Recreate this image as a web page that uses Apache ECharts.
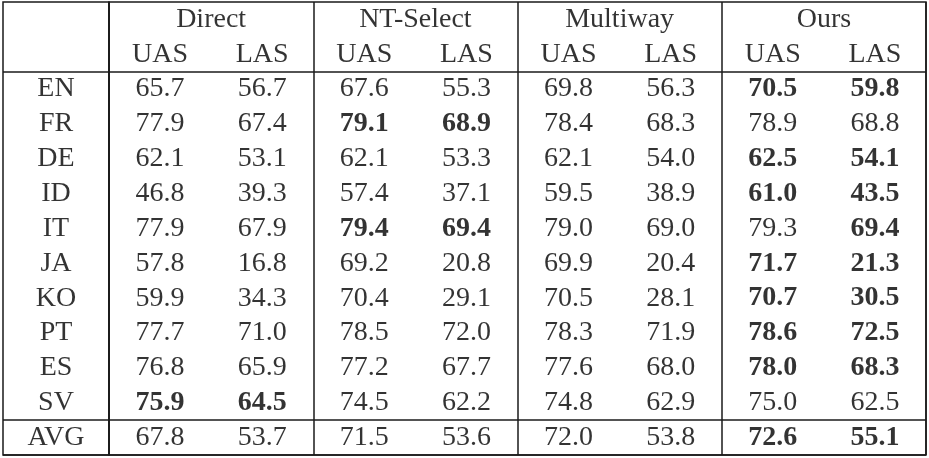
<!DOCTYPE html>
<html>
<head>
<meta charset="utf-8">
<script src="https://cdn.jsdelivr.net/npm/echarts@6/dist/echarts.min.js"></script>
<style>
html,body{margin:0;padding:0;background:#fff;}
#main{width:929px;height:458px;}
</style>
</head>
<body>
<div id="main"></div>
<script>
// 表格数据
var groups=['Direct','NT-Select','Multiway','Ours'];
var metrics=['UAS','LAS'];
var langs=['EN','FR','DE','ID','IT','JA','KO','PT','ES','SV','AVG'];

var directUAS=[65.7,77.9,62.1,46.8,77.9,57.8,59.9,77.7,76.8,75.9,67.8];
var directLAS=[56.7,67.4,53.1,39.3,67.9,16.8,34.3,71.0,65.9,64.5,53.7];
var ntUAS=[67.6,79.1,62.1,57.4,79.4,69.2,70.4,78.5,77.2,74.5,71.5];
var ntLAS=[55.3,68.9,53.3,37.1,69.4,20.8,29.1,72.0,67.7,62.2,53.6];
var multiUAS=[69.8,78.4,62.1,59.5,79.0,69.9,70.5,78.3,77.6,74.8,72.0];
var multiLAS=[56.3,68.3,54.0,38.9,69.0,20.4,28.1,71.9,68.0,62.9,53.8];
var oursUAS=[70.5,78.9,62.5,61.0,79.3,71.7,70.7,78.6,78.0,75.0,72.6];
var oursLAS=[59.8,68.8,54.1,43.5,69.4,21.3,30.5,72.5,68.3,62.5,55.1];

// 加粗的单元格 (语言:列号)
var boldCells=['EN:6','EN:7','FR:2','FR:3','DE:6','DE:7','ID:6','ID:7','IT:2','IT:3','IT:7',
	'JA:6','JA:7','KO:6','KO:7','PT:6','PT:7','ES:6','ES:7','SV:0','SV:1','AVG:6','AVG:7'];

var columns=[directUAS,directLAS,ntUAS,ntLAS,multiUAS,multiLAS,oursUAS,oursLAS];
var rows=['g','m'].concat(langs);
var cols=[];
for(var g=0;g<groups.length;g++){
	for(var m=0;m<metrics.length;m++){cols.push(groups[g]+' '+metrics[m]);}
}

var FONT='"Liberation Serif","DejaVu Serif",serif';
var SIZE=28;
var lineStyle={color:'#1a1a1a',width:1.5};

var cellData=[];
for(var c=0;c<columns.length;c++){
	for(var r=0;r<langs.length;r++){
		var bold=boldCells.indexOf(langs[r]+':'+c)>-1;
		cellData.push({value:[c,r+2,columns[c][r].toFixed(1)],label:{fontWeight:bold?'bold':'normal'}});
	}
}
var subData=[];
for(var c2=0;c2<cols.length;c2++){subData.push([c2,1,metrics[c2%2]]);}
var groupData=[];
for(var g2=0;g2<groups.length;g2++){groupData.push([g2,0,groups[g2]]);}
var langData=[];
for(var r2=0;r2<langs.length;r2++){langData.push([0,r2+2,langs[r2]]);}

function rowLine(i){return i===2||i===12;}

var hidden={axisLabel:{show:false},axisTick:{show:false},axisLine:{show:false}};
function ax(o){return Object.assign({},hidden,o);}

var textSeries=function(xi,yi,data){
	return {
		type:'scatter',xAxisIndex:xi,yAxisIndex:yi,data:data,
		symbolSize:1,itemStyle:{color:'rgba(0,0,0,0)'},
		label:{show:true,position:'inside',color:'#000',fontFamily:FONT,fontSize:SIZE,
			formatter:function(p){return p.value[2];}},
		silent:true
	};
};

var myChart=echarts.init(document.getElementById('main'));
var option={
	animation:false,
	backgroundColor:'#fff',
	grid:[
		{left:3,top:2,width:106,bottom:3,show:true,borderColor:lineStyle.color,borderWidth:lineStyle.width},
		{left:109,top:2,right:3,bottom:3,show:true,borderColor:lineStyle.color,borderWidth:lineStyle.width}
	],
	xAxis:[
		ax({type:'category',gridIndex:0,data:['lang'],splitLine:{show:false}}),
		ax({type:'category',gridIndex:1,data:cols,splitLine:{show:false}}),
		ax({type:'category',gridIndex:1,data:groups,position:'top',splitLine:{show:true,interval:0,lineStyle:lineStyle}})
	],
	yAxis:[
		ax({type:'category',gridIndex:0,inverse:true,data:rows,splitLine:{show:true,interval:rowLine,lineStyle:lineStyle}}),
		ax({type:'category',gridIndex:1,inverse:true,data:rows,splitLine:{show:true,interval:rowLine,lineStyle:lineStyle}})
	],
	series:[
		textSeries(0,0,langData),
		textSeries(1,1,cellData),
		textSeries(1,1,subData),
		textSeries(2,1,groupData)
	]
};
myChart.setOption(option);
</script>
</body>
</html>
